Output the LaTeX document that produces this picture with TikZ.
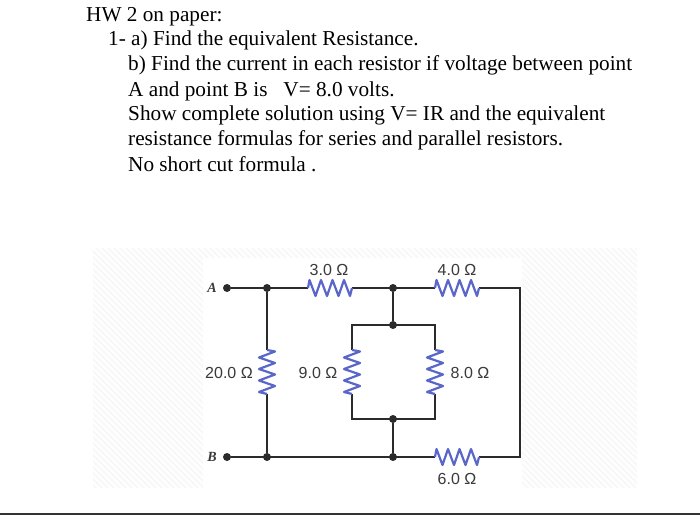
\documentclass[tikz,border=0pt]{standalone}
\usepackage{fontspec}
\setmainfont{Liberation Serif}
\setsansfont{Liberation Sans}
\usetikzlibrary{calc}
\definecolor{resblue}{HTML}{5A66C8}
\definecolor{wirec}{HTML}{2B2B2B}
\definecolor{hatchc}{HTML}{F8F8F8}
\definecolor{labc}{HTML}{3A3A3A}
\tikzset{
  x=1pt,y=-1pt,
  wire/.style={draw=wirec,line width=2.2pt},
  hatch/.style={draw=hatchc,line width=2pt},
  res/.style={draw=resblue,line width=2.2pt,line join=round},
  dotn/.style={circle,fill=wirec,draw=none,inner sep=0pt,minimum size=8pt},
  hw/.style={font=\fontsize{21.25}{24}\selectfont,anchor=base west,inner sep=0pt,text=black},
  val/.style={font=\sffamily\fontsize{16}{18}\selectfont,inner sep=0pt,text=labc,anchor=center},
  term/.style={font=\bfseries\itshape\fontsize{14}{16}\selectfont,inner sep=0pt,text=labc,anchor=center}
}
\newcommand{\hres}[2]{% from #1 to #2, horizontal
  \draw[res] (#1) -- ($(#1)+(1.5,-8)$) -- ($(#1)+(7.5,8)$) -- ($(#1)+(13,-8)$) -- ($(#1)+(19,8)$) -- ($(#1)+(24.5,-8)$) -- ($(#1)+(30.5,8)$) -- ($(#1)+(36,-8)$) -- ($(#1)+(42,8)$) -- (#2);}
\newcommand{\vres}[2]{% from #1 to #2, vertical
  \draw[res] (#1) -- ($(#1)+(8,1.5)$) -- ($(#1)+(-8,7.5)$) -- ($(#1)+(8,13)$) -- ($(#1)+(-8,19)$) -- ($(#1)+(8,24.5)$) -- ($(#1)+(-8,30.5)$) -- ($(#1)+(8,36)$) -- ($(#1)+(-8,42)$) -- (#2);}
\begin{document}
\begin{tikzpicture}
\useasboundingbox (0,0) rectangle (700,516);
\fill[white] (0,0) rectangle (700,516);
% hatch background
\begin{scope}
  \clip (93,248) -- (637,248) -- (637,488) -- (522,488) -- (522,258) -- (203,258) -- (203,488) -- (93,488) -- cycle;
  \foreach \i in {-300,-294,...,700} { \draw[hatch] (\i,248) -- ++(240,240); }
\end{scope}
% text
\node[hw] (t1) at (86,21.5) {HW 2 on paper:};
\node[hw] (t2) at (108,46) {1- a) Find the equivalent Resistance.};
\node[hw] (t3) at (128,71) {b) Find the current in each resistor if voltage between point};
\node[hw] (t4) at (128,96) {A and point B is\ \ \ V= 8.0 volts.};
\node[hw] (t5) at (128,120.5) {Show complete solution using V= IR and the equivalent};
\node[hw] (t6) at (128,145.5) {resistance formulas for series and parallel resistors.};
\node[hw] (t7) at (128,171) {No short cut formula .};
% points
\node[dotn] (A) at (227,288) {};
\node[dotn] (B) at (227,457) {};
\node[dotn] (jA) at (267,288) {};
\node[dotn] (jB) at (267,457) {};
\node[dotn] (jT) at (393,288) {};
\node[dotn] (jU) at (393,325) {};
\node[dotn] (jL) at (393,419) {};
\node[dotn] (jD) at (393,457) {};
\coordinate (r3a) at (308,288);
\coordinate (r3b) at (352,288);
\coordinate (r4a) at (435,288);
\coordinate (r4b) at (479,288);
\coordinate (r6a) at (435,457);
\coordinate (r6b) at (479,457);
\coordinate (r20a) at (267,350);
\coordinate (r20b) at (267,394);
\coordinate (r9a) at (352,350);
\coordinate (r9b) at (352,394);
\coordinate (r8a) at (435,350);
\coordinate (r8b) at (435,394);
\coordinate (cTR) at (520,288);
\coordinate (cBR) at (520,457);
\coordinate (cUL) at (352,325);
\coordinate (cUR) at (435,325);
\coordinate (cLL) at (352,419);
\coordinate (cLR) at (435,419);
% wires
\draw[wire] (A) -- (r3a);
\draw[wire] (r3b) -- (r4a);
\draw[wire,line join=miter] (r4b) -- (cTR) -- (cBR) -- (r6b);
\draw[wire] (B) -- (r6a);
\draw[wire] (jA) -- (r20a);
\draw[wire] (r20b) -- (jB);
\draw[wire] (jT) -- (jU);
\draw[wire] (jL) -- (jD);
\draw[wire,line join=miter] (r9a) -- (cUL) -- (cUR) -- (r8a);
\draw[wire,line join=miter] (r9b) -- (cLL) -- (cLR) -- (r8b);
% resistors
\hres{r3a}{r3b}
\hres{r4a}{r4b}
\hres{r6a}{r6b}
\vres{r20a}{r20b}
\vres{r9a}{r9b}
\vres{r8a}{r8b}
% labels
\node[term] (lA) at (212,288) {A};
\node[term] (lB) at (212,457) {B};
\node[val] (l3) at (329,269.5) {3.0 Ω};
\node[val] (l4) at (457,269.5) {4.0 Ω};
\node[val] (l20) at (229,373) {20.0 Ω};
\node[val] (l9) at (318,373) {9.0 Ω};
\node[val] (l8) at (470,373) {8.0 Ω};
\node[val] (l6) at (457,479) {6.0 Ω};
% bottom rule
\coordinate (ruleL) at (0,514);
\coordinate (ruleR) at (700,514);
\draw[draw=black!80,line width=2.5pt] (ruleL) -- (ruleR);
\end{tikzpicture}
\end{document}
